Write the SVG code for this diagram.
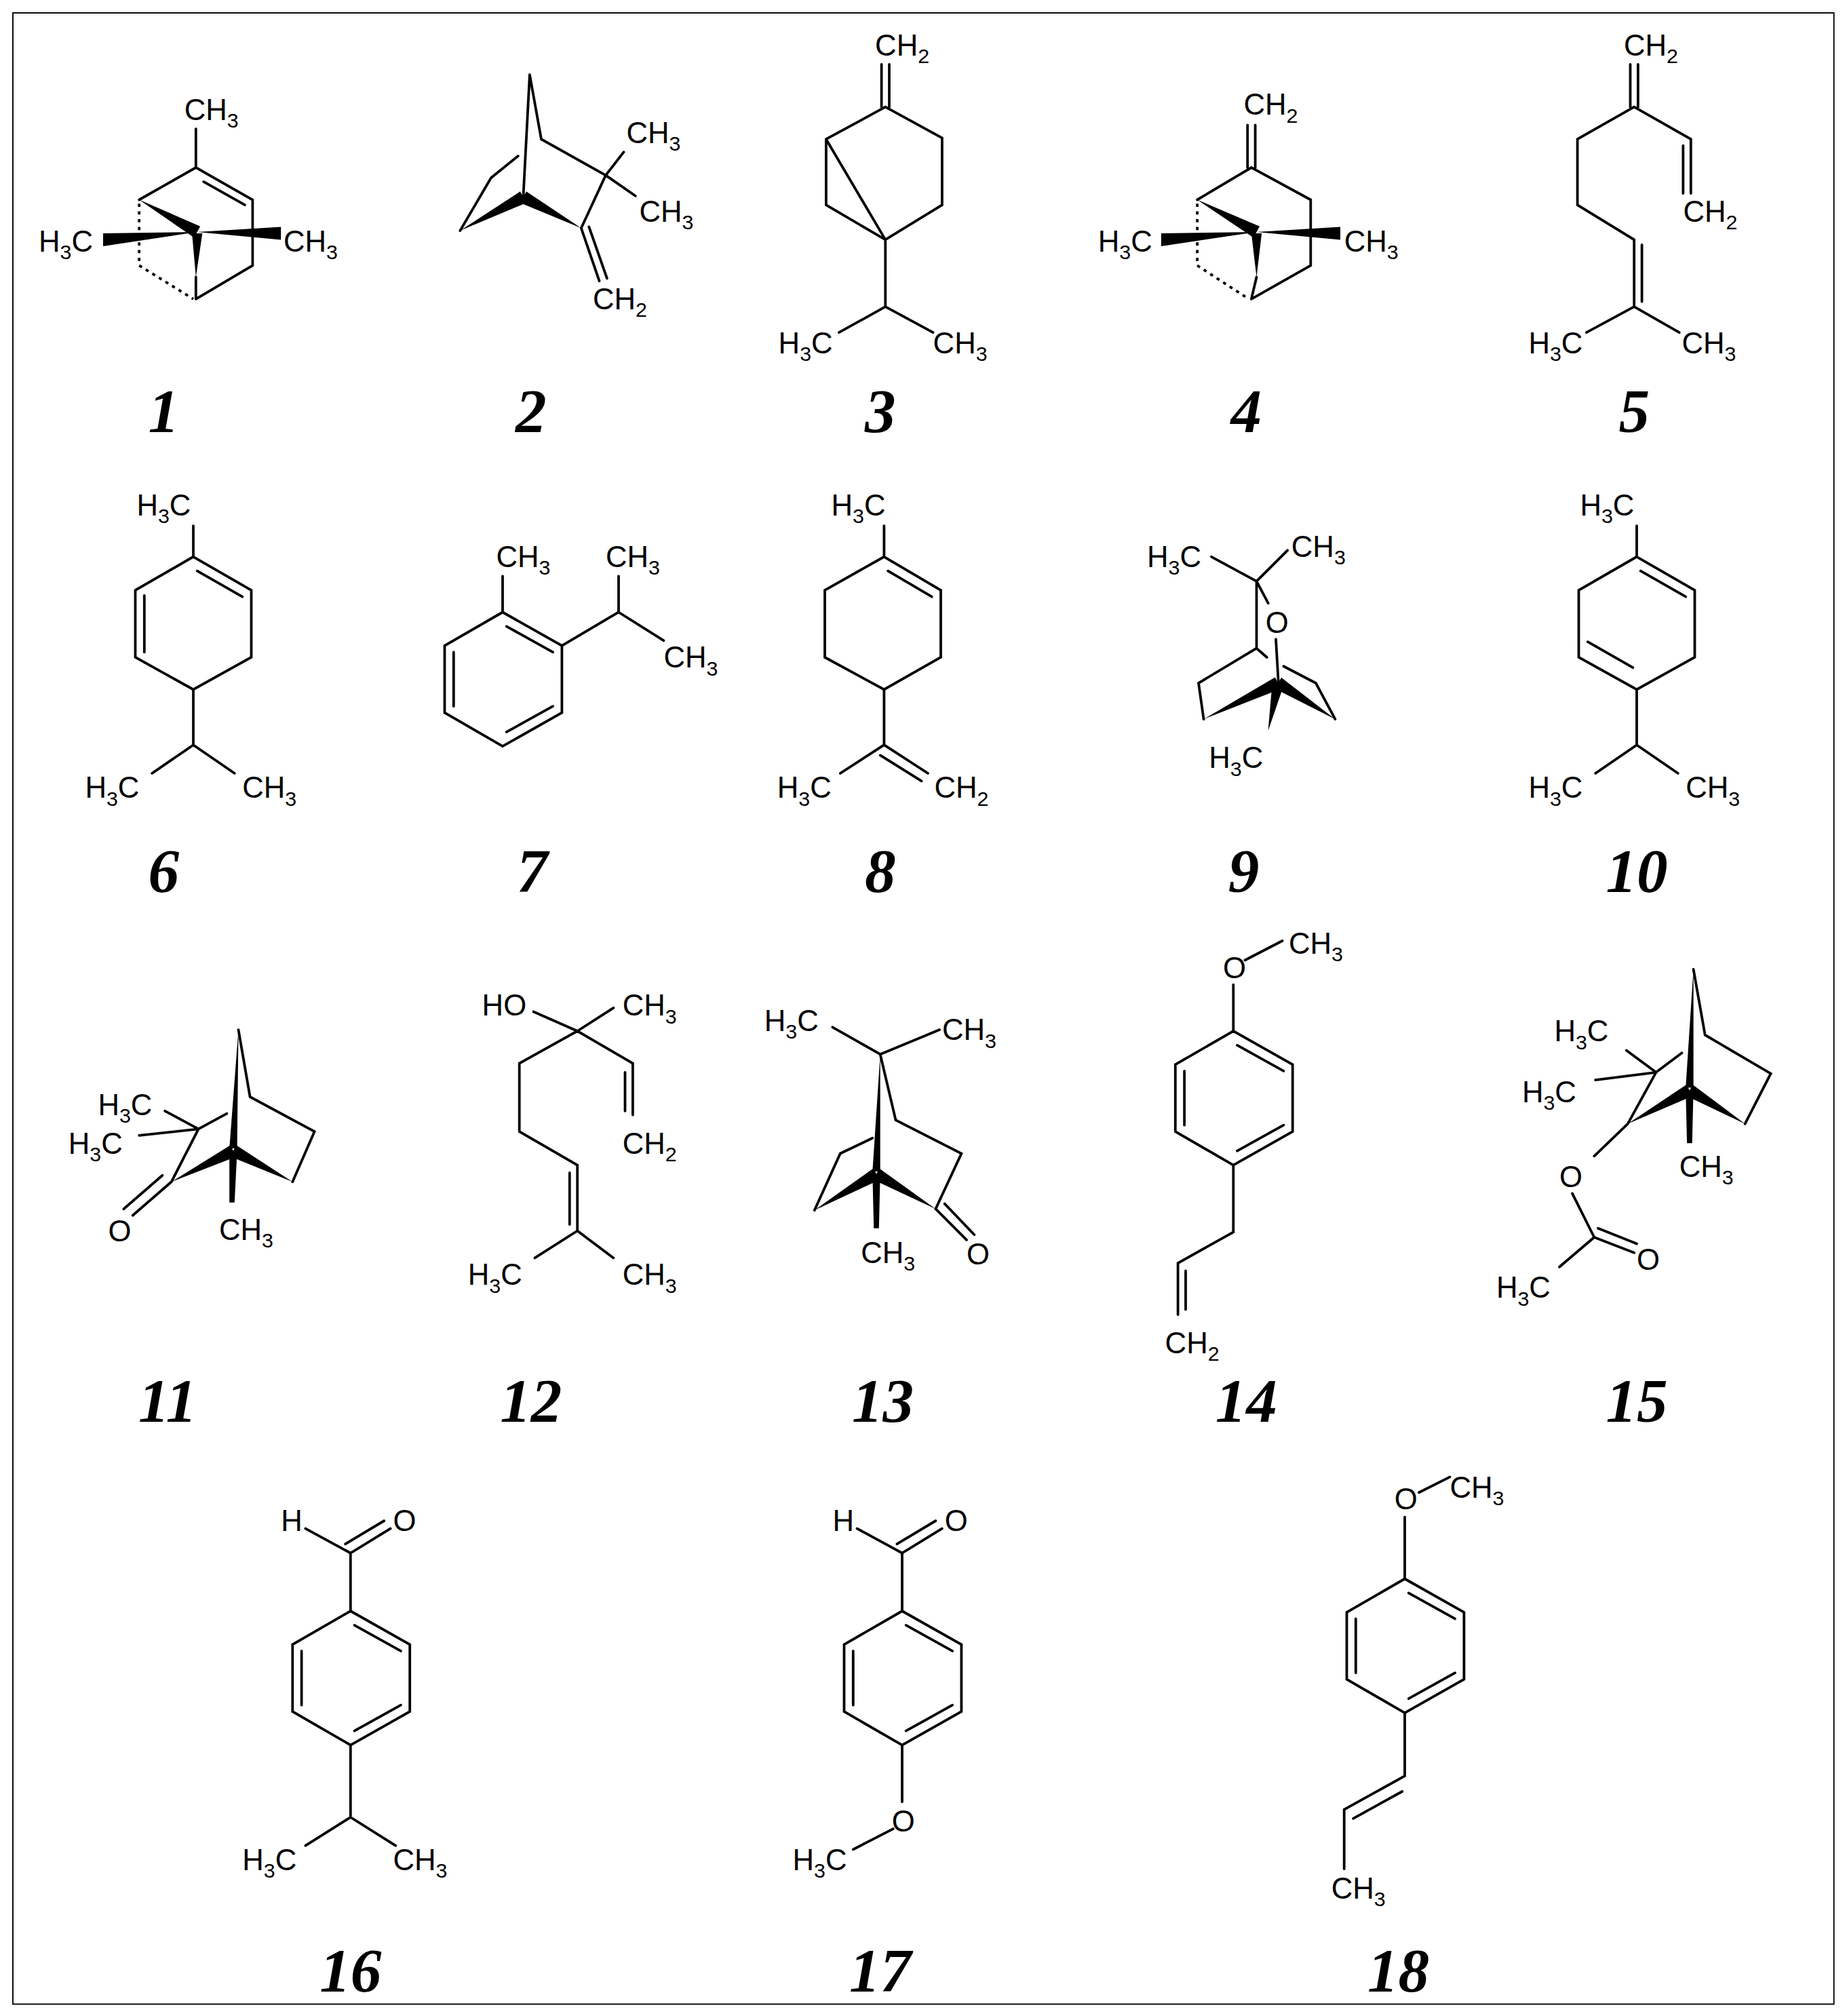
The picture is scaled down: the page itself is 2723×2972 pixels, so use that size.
<svg xmlns="http://www.w3.org/2000/svg" xmlns:xlink="http://www.w3.org/1999/xlink" width="2723" height="2972" viewBox="0 0 2723 2972">
<style>
.b{stroke:#000;stroke-width:2;fill:none;stroke-linecap:round}
.w{fill:#000;stroke:none}
.h{stroke:#000;stroke-width:2;fill:none;stroke-dasharray:2.5 3.5}
.a{font-family:"Liberation Sans",Arial,sans-serif;font-size:23px;fill:#000}
.s{font-size:16px}
.n{font-family:"Liberation Serif","Times New Roman",serif;font-size:48px;font-weight:bold;font-style:italic;fill:#000;text-anchor:middle}
</style>
<defs>
<g id="arom" class="b"><path d="M0,0L46,26L46,78L0,104L-45,78L-45,26Z M3,11L39,31 M-38,31L-38,73 M39,73L3,93"/></g>
</defs>
<rect x="0" y="0" width="2723" height="2972" fill="#fff"/>
<g transform="scale(1.9)">
<rect x="10" y="10" width="1413" height="1545" fill="none" stroke="#000" stroke-width="1"/>

<g id="m1">
<path class="b" d="M152,100L152,130L196,155L196,206L152,232 M108,155L152,130 M158,141L190,159 M152,215L152,232"/>
<polygon class="w" points="153,180 80,181 80,191"/>
<polygon class="w" points="153,180 218,176 218,186"/>
<polygon class="w" points="108,155 150.6,184.4 155.4,175.6"/>
<polygon class="w" points="149,181 157,181 152,215"/>
<path class="h" d="M108,158L108,206L150,232"/>
<text class="a" x="143" y="93">CH<tspan class="s" dy="6">3</tspan></text>
<text class="a" x="30" y="195">H<tspan class="s" dy="6">3</tspan><tspan dy="-6">C</tspan></text>
<text class="a" x="220" y="195">CH<tspan class="s" dy="6">3</tspan></text>
<text class="n" x="127" y="335">1</text>
</g>

<g id="m2">
<path class="b" d="M411,58L420,108L470,136L451,177 M411,58L406,153 M402,121L381,138L357,179 M470,136L484,118 M470,136L493,152 M451,177L465,218 M457,176L471,216"/>
<polygon class="w" points="357,179 403.6,148.6 408.4,157.4"/>
<polygon class="w" points="403.6,157.4 408.4,148.6 451,177"/>
<text class="a" x="486" y="111">CH<tspan class="s" dy="6">3</tspan></text>
<text class="a" x="496" y="172">CH<tspan class="s" dy="6">3</tspan></text>
<text class="a" x="460" y="240">CH<tspan class="s" dy="6">2</tspan></text>
<text class="n" x="412" y="335">2</text>
</g>

<g id="m3">
<path class="b" d="M684,50L684,83 M690,50L690,83 M687,83L731,107L731,159L687,186L641,159L641,108Z M641,108L687,186 M687,186L687,238L651,258 M687,238L724,258"/>
<text class="a" x="679" y="43">CH<tspan class="s" dy="6">2</tspan></text>
<text class="a" x="604" y="274">H<tspan class="s" dy="6">3</tspan><tspan dy="-6">C</tspan></text>
<text class="a" x="724" y="274">CH<tspan class="s" dy="6">3</tspan></text>
<text class="n" x="683" y="335">3</text>
</g>

<g id="m4">
<path class="b" d="M968,97L968,130 M974,97L974,130 M929,155L971,130L1017,155L1017,206L971,232 M975,215L971,232"/>
<polygon class="w" points="975,180 901,181 901,191"/>
<polygon class="w" points="975,180 1040,176 1040,186"/>
<polygon class="w" points="929,155 972.6,184.4 977.4,175.6"/>
<polygon class="w" points="971,181 979,181 975,215"/>
<path class="h" d="M929,158L929,206L969,232"/>
<text class="a" x="965" y="89">CH<tspan class="s" dy="6">2</tspan></text>
<text class="a" x="852" y="195">H<tspan class="s" dy="6">3</tspan><tspan dy="-6">C</tspan></text>
<text class="a" x="1043" y="195">CH<tspan class="s" dy="6">3</tspan></text>
<text class="n" x="967" y="335">4</text>
</g>

<g id="m5">
<path class="b" d="M1265,50L1265,83 M1271,50L1271,83 M1268,83L1312,108L1312,150 M1306,113L1306,150 M1268,83L1224,108L1224,159L1268,186L1268,238 M1274,190L1274,234 M1268,238L1231,258 M1268,238L1303,258"/>
<text class="a" x="1260" y="43">CH<tspan class="s" dy="6">2</tspan></text>
<text class="a" x="1306" y="172">CH<tspan class="s" dy="6">2</tspan></text>
<text class="a" x="1186" y="274">H<tspan class="s" dy="6">3</tspan><tspan dy="-6">C</tspan></text>
<text class="a" x="1305" y="274">CH<tspan class="s" dy="6">3</tspan></text>
<text class="n" x="1268" y="335">5</text>
</g>

<g id="m6">
<path class="b" d="M150,408L150,432 M150,432L195,458L195,510L150,535L105,510L105,458Z M153,443L188,463 M112,462L112,506 M150,535L150,578L118,600 M150,578L182,600"/>
<text class="a" x="106" y="400">H<tspan class="s" dy="6">3</tspan><tspan dy="-6">C</tspan></text>
<text class="a" x="66" y="619">H<tspan class="s" dy="6">3</tspan><tspan dy="-6">C</tspan></text>
<text class="a" x="188" y="619">CH<tspan class="s" dy="6">3</tspan></text>
<text class="n" x="127" y="692">6</text>
</g>

<g id="m7">
<use xlink:href="#arom" x="390" y="475"/>
<path class="b" d="M390,475L390,447 M436,501L480,475L480,447 M480,475L515,497"/>
<text class="a" x="385" y="440">CH<tspan class="s" dy="6">3</tspan></text>
<text class="a" x="470" y="440">CH<tspan class="s" dy="6">3</tspan></text>
<text class="a" x="515" y="518">CH<tspan class="s" dy="6">3</tspan></text>
<text class="n" x="413" y="692">7</text>
</g>

<g id="m8">
<path class="b" d="M686,408L686,432 M686,432L730,458L730,510L686,535L640,510L640,458Z M689,443L723,463 M686,535L686,578L652,600 M686,578L720,600 M683,586L715,606"/>
<text class="a" x="645" y="400">H<tspan class="s" dy="6">3</tspan><tspan dy="-6">C</tspan></text>
<text class="a" x="603" y="619">H<tspan class="s" dy="6">3</tspan><tspan dy="-6">C</tspan></text>
<text class="a" x="725" y="619">CH<tspan class="s" dy="6">2</tspan></text>
<text class="n" x="683" y="692">8</text>
</g>

<g id="m9">
<path class="b" d="M975,451L940,432 M975,451L999,427 M975,451L984,468 M975,451L975,503L930,530L934,558 M990,496L992,530 M996,517L1021,530L1036,558 M975,503L983,510"/>
<polygon class="w" points="934,558 989.4,525.5 993.8,534.5"/>
<polygon class="w" points="1036,558 988.9,534.2 994.3,525.8"/>
<polygon class="w" points="987,532 996,532 984,567"/>
<text class="a" x="890" y="440">H<tspan class="s" dy="6">3</tspan><tspan dy="-6">C</tspan></text>
<text class="a" x="1002" y="432">CH<tspan class="s" dy="6">3</tspan></text>
<text class="a" x="982" y="491">O</text>
<text class="a" x="938" y="596">H<tspan class="s" dy="6">3</tspan><tspan dy="-6">C</tspan></text>
<text class="n" x="965" y="692">9</text>
</g>

<g id="m10">
<path class="b" d="M1270,408L1270,432 M1270,432L1315,458L1315,510L1270,535L1225,510L1225,458Z M1273,443L1308,463 M1232,498L1267,518 M1270,535L1270,578L1238,600 M1270,578L1302,600"/>
<text class="a" x="1226" y="400">H<tspan class="s" dy="6">3</tspan><tspan dy="-6">C</tspan></text>
<text class="a" x="1186" y="619">H<tspan class="s" dy="6">3</tspan><tspan dy="-6">C</tspan></text>
<text class="a" x="1308" y="619">CH<tspan class="s" dy="6">3</tspan></text>
<text class="n" x="1270" y="692">10</text>
</g>

<g id="m11">
<path class="b" d="M185,799L194,851L244,878L227,917 M176,864L154,876L133,917 M133,917L103,943 M126,912L96,938 M154,876L128,862 M154,876L108,881"/>
<polygon class="w" points="133,917 178.8,888.5 183.2,897.5"/>
<polygon class="w" points="227,917 178.7,897.4 183.3,888.6"/>
<polygon class="w" points="185,799 178,891 184,891"/>
<polygon class="w" points="178,893 184,893 182,933 178,933"/>
<text class="a" x="76" y="865">H<tspan class="s" dy="6">3</tspan><tspan dy="-6">C</tspan></text>
<text class="a" x="53" y="895">H<tspan class="s" dy="6">3</tspan><tspan dy="-6">C</tspan></text>
<text class="a" x="84" y="963">O</text>
<text class="a" x="170" y="962">CH<tspan class="s" dy="6">3</tspan></text>
<text class="n" x="130" y="1103">11</text>
</g>

<g id="m12">
<path class="b" d="M448,800L414,785 M448,800L476,782 M448,800L491,825L491,865 M485,832L485,862 M448,800L403,825L403,878L448,904L448,955 M442,910L442,950 M448,955L415,976 M448,955L476,976"/>
<text class="a" x="374" y="788">HO</text>
<text class="a" x="483" y="788">CH<tspan class="s" dy="6">3</tspan></text>
<text class="a" x="483" y="895">CH<tspan class="s" dy="6">2</tspan></text>
<text class="a" x="363" y="997">H<tspan class="s" dy="6">3</tspan><tspan dy="-6">C</tspan></text>
<text class="a" x="483" y="997">CH<tspan class="s" dy="6">3</tspan></text>
<text class="n" x="412" y="1103">12</text>
</g>

<g id="m13">
<path class="b" d="M683,818L646,797 M683,818L729,799 M683,818L695,869L746,895L726,938 M726,938L750,962 M733,934L756,958 M677,883L652,895L632,939"/>
<polygon class="w" points="632,939 677.8,906.5 682.2,915.5"/>
<polygon class="w" points="726,938 677.7,915.4 682.3,906.6"/>
<polygon class="w" points="683,818 677,909 683,909"/>
<polygon class="w" points="677,911 683,911 682,953 678,953"/>
<text class="a" x="593" y="800">H<tspan class="s" dy="6">3</tspan><tspan dy="-6">C</tspan></text>
<text class="a" x="731" y="807">CH<tspan class="s" dy="6">3</tspan></text>
<text class="a" x="668" y="980">CH<tspan class="s" dy="6">3</tspan></text>
<text class="a" x="750" y="981">O</text>
<text class="n" x="685" y="1103">13</text>
</g>

<g id="m14">
<use xlink:href="#arom" x="957" y="800"/>
<path class="b" d="M957,764L957,800 M966,745L995,730 M957,904L957,956L914,980L914,1020 M920,986L920,1016"/>
<text class="a" x="949" y="759">O</text>
<text class="a" x="1000" y="740">CH<tspan class="s" dy="6">3</tspan></text>
<text class="a" x="904" y="1050">CH<tspan class="s" dy="6">2</tspan></text>
<text class="n" x="967" y="1103">14</text>
</g>

<g id="m15">
<path class="b" d="M1314,752L1323,803L1374,833L1354,872 M1305,817L1285,832 M1285,832L1262,815 M1285,832L1238,838 M1285,832L1263,872L1237,897 M1220,926L1237,960 M1237,960L1268,972 M1240,953L1270,965 M1237,960L1210,983"/>
<polygon class="w" points="1354,872 1308.4,850.3 1313.6,841.7"/>
<polygon class="w" points="1263,872 1308.6,841.6 1313.4,850.4"/>
<polygon class="w" points="1314,752 1308,844 1314,844"/>
<polygon class="w" points="1308,846 1314,846 1313,887 1309,887"/>
<text class="a" x="1206" y="808">H<tspan class="s" dy="6">3</tspan><tspan dy="-6">C</tspan></text>
<text class="a" x="1181" y="855">H<tspan class="s" dy="6">3</tspan><tspan dy="-6">C</tspan></text>
<text class="a" x="1303" y="913">CH<tspan class="s" dy="6">3</tspan></text>
<text class="a" x="1210" y="921">O</text>
<text class="a" x="1270" y="985">O</text>
<text class="a" x="1161" y="1007">H<tspan class="s" dy="6">3</tspan><tspan dy="-6">C</tspan></text>
<text class="n" x="1270" y="1103">15</text>
</g>

<g id="m16">
<use xlink:href="#arom" x="272" y="1250"/>
<path class="b" d="M272,1250L272,1205L237,1186 M272,1205L303,1186 M268,1198L298,1180 M272,1354L272,1410L237,1432 M272,1410L307,1432"/>
<text class="a" x="218" y="1188">H</text>
<text class="a" x="305" y="1188">O</text>
<text class="a" x="188" y="1451">H<tspan class="s" dy="6">3</tspan><tspan dy="-6">C</tspan></text>
<text class="a" x="305" y="1451">CH<tspan class="s" dy="6">3</tspan></text>
<text class="n" x="272" y="1545">16</text>
</g>

<g id="m17">
<use xlink:href="#arom" x="700" y="1250"/>
<path class="b" d="M700,1250L700,1205L665,1186 M700,1205L731,1186 M696,1198L726,1180 M700,1354L700,1398 M693,1419L662,1435"/>
<text class="a" x="646" y="1188">H</text>
<text class="a" x="733" y="1188">O</text>
<text class="a" x="692" y="1421">O</text>
<text class="a" x="615" y="1451">H<tspan class="s" dy="6">3</tspan><tspan dy="-6">C</tspan></text>
<text class="n" x="683" y="1545">17</text>
</g>

<g id="m18">
<use xlink:href="#arom" x="1090" y="1225"/>
<path class="b" d="M1090,1177L1090,1225 M1101,1158L1125,1146 M1090,1329L1090,1378L1043,1404L1043,1450 M1088,1390L1050,1411"/>
<text class="a" x="1082" y="1171">O</text>
<text class="a" x="1125" y="1162">CH<tspan class="s" dy="6">3</tspan></text>
<text class="a" x="1033" y="1473">CH<tspan class="s" dy="6">3</tspan></text>
<text class="n" x="1085" y="1545">18</text>
</g>

<g id="connectors"></g>
</g>
</svg>
